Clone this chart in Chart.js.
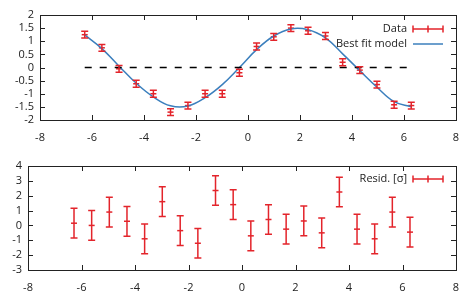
<!DOCTYPE html>
<html>
<head>
<meta charset="utf-8">
<script src="https://cdn.jsdelivr.net/npm/chart.js@4.4.1/dist/chart.umd.min.js"></script>
<style>
body { margin: 0; background: #fff; }
#wrap { position: relative; width: 474px; height: 301px; }
#fitChart { position: absolute; left: 0; top: 0; }
#residChart { position: absolute; left: 0; top: 145px; }
</style>
</head>
<body>
<div id="wrap">
  <canvas id="fitChart" width="474" height="145"></canvas>
  <canvas id="residChart" width="474" height="156"></canvas>
</div>
<script>
// data
var xValues = [-6.28, -5.62, -4.96, -4.30, -3.64, -2.98, -2.31, -1.65, -0.99, -0.33,
               0.33, 0.99, 1.65, 2.31, 2.98, 3.64, 4.30, 4.96, 5.62, 6.28];
var dataValues = [1.25, 0.75, -0.05, -0.62, -1.0, -1.7, -1.45, -1.0, -1.0, -0.2,
                  0.8, 1.17, 1.5, 1.4, 1.2, 0.2, -0.1, -0.65, -1.42, -1.45];
var dataErrors = [0.13, 0.13, 0.13, 0.13, 0.13, 0.13, 0.13, 0.13, 0.13, 0.13,
                  0.13, 0.13, 0.13, 0.13, 0.13, 0.13, 0.13, 0.13, 0.13, 0.13];
var modelValues = [1.24, 0.72, 0.05, -0.6, -1.12, -1.46, -1.47, -1.15, -0.65, 0.0,
                   0.68, 1.2, 1.47, 1.44, 1.13, 0.52, -0.12, -0.75, -1.3, -1.5];
var residValues = [0.15, 0.0, 0.9, 0.28, -0.9, 1.6, -0.35, -1.2, 2.35, 1.4,
                   -0.7, 0.4, -0.25, 0.3, -0.5, 2.25, -0.25, -0.9, 0.9, -0.45];
var residErrors = [1, 1, 1, 1, 1, 1, 1, 1, 1, 1, 1, 1, 1, 1, 1, 1, 1, 1, 1, 1];
var zeroLineX = [-6.28, 6.28];
var zeroLineY = [0, 0];
var xTicks = [-8, -6, -4, -2, 0, 2, 4, 6, 8];
var yTicksTop = [-2, -1.5, -1, -0.5, 0, 0.5, 1, 1.5, 2];
var yTicksBottom = [-3, -2, -1, 0, 1, 2, 3, 4];

var RED = '#e3242b';
var BLUE = '#3b7fbd';
var AXIS = '#222222';
var FONT = { family: '"Open Sans", "Noto Sans", sans-serif', size: 11 };

function pts(xs, ys) {
    return xs.map(function (x, i) { return { x: x, y: ys[i] }; });
}

// vertical error bars with caps, for datasets carrying an "errors" array
var errorBars = {
    id: 'errorBars',
    afterDatasetsDraw: function (chart) {
        var ctx = chart.ctx;
        var sx = chart.scales.x, sy = chart.scales.y;
        chart.data.datasets.forEach(function (ds) {
            if (!ds.errors) return;
            ctx.save();
            ctx.strokeStyle = ds.borderColor;
            ctx.lineWidth = 1.5;
            ds.data.forEach(function (p, i) {
                var px = sx.getPixelForValue(p.x);
                var y1 = sy.getPixelForValue(p.y - ds.errors[i]);
                var y2 = sy.getPixelForValue(p.y + ds.errors[i]);
                ctx.beginPath();
                ctx.moveTo(px, y1); ctx.lineTo(px, y2);
                ctx.moveTo(px - 3.5, y1); ctx.lineTo(px + 3.5, y1);
                ctx.moveTo(px - 3.5, y2); ctx.lineTo(px + 3.5, y2);
                ctx.stroke();
            });
            ctx.restore();
        });
    }
};

// gnuplot style tics pointing inwards on all four sides
var innerTicks = {
    id: 'innerTicks',
    afterDraw: function (chart) {
        var ctx = chart.ctx, a = chart.chartArea;
        var sx = chart.scales.x, sy = chart.scales.y;
        ctx.save();
        ctx.strokeStyle = AXIS;
        ctx.lineWidth = 1;
        ctx.beginPath();
        sx.ticks.forEach(function (t) {
            var px = Math.round(sx.getPixelForValue(t.value)) + 0.5;
            ctx.moveTo(px, a.bottom); ctx.lineTo(px, a.bottom - 5);
            ctx.moveTo(px, a.top); ctx.lineTo(px, a.top + 5);
        });
        sy.ticks.forEach(function (t) {
            var py = Math.round(sy.getPixelForValue(t.value)) + 0.5;
            ctx.moveTo(a.left, py); ctx.lineTo(a.left + 5, py);
            ctx.moveTo(a.right, py); ctx.lineTo(a.right - 5, py);
        });
        ctx.stroke();
        ctx.restore();
    }
};

// key in the upper right corner, text right aligned before the sample
var keyBox = {
    id: 'keyBox',
    afterDraw: function (chart) {
        var ctx = chart.ctx;
        var items = chart.options.plugins.keyBox.items;
        ctx.save();
        ctx.font = FONT.size + 'px ' + FONT.family;
        ctx.textAlign = 'right';
        ctx.textBaseline = 'middle';
        items.forEach(function (it) {
            ctx.fillStyle = AXIS;
            ctx.fillText(it.text, 407, it.y);
            ctx.strokeStyle = it.color;
            ctx.lineWidth = 1.5;
            ctx.beginPath();
            ctx.moveTo(413, it.y); ctx.lineTo(443, it.y);
            if (it.bars) {
                [413, 428, 443].forEach(function (bx) {
                    ctx.moveTo(bx, it.y - 3.5); ctx.lineTo(bx, it.y + 3.5);
                });
            }
            ctx.stroke();
        });
        ctx.restore();
    }
};

function makeScales(yMin, yMax, yStep, yWidth, xHeight, xPad) {
    var hidden = { display: false };
    return {
        x: {
            type: 'linear', position: 'bottom', min: -8, max: 8,
            afterBuildTicks: function (s) { s.ticks = xTicks.map(function (v) { return { value: v }; }); },
            ticks: { font: FONT, color: AXIS, padding: xPad, maxRotation: 0, autoSkip: false },
            grid: { display: false, drawTicks: false },
            border: { display: true, color: AXIS, width: 1 },
            afterFit: function (s) { s.height = xHeight; }
        },
        x2: {
            type: 'linear', position: 'top', min: -8, max: 8,
            ticks: hidden, grid: { display: false, drawTicks: false },
            border: { display: true, color: AXIS, width: 1 },
            afterFit: function (s) { s.height = 0; }
        },
        y: {
            type: 'linear', position: 'left', min: yMin, max: yMax,
            afterBuildTicks: function (s) { s.ticks = yStep.map(function (v) { return { value: v }; }); },
            ticks: { font: FONT, color: AXIS, padding: 6, autoSkip: false,
                     callback: function (v) { return String(v); } },
            grid: { display: false, drawTicks: false },
            border: { display: true, color: AXIS, width: 1 },
            afterFit: function (s) { s.width = yWidth; }
        },
        y2: {
            type: 'linear', position: 'right', min: yMin, max: yMax,
            ticks: hidden, grid: { display: false, drawTicks: false },
            border: { display: true, color: AXIS, width: 1 },
            afterFit: function (s) { s.width = 0; }
        }
    };
}

new Chart(document.getElementById('fitChart'), {
    type: 'scatter',
    data: {
        datasets: [
            {
                label: 'zero', data: pts(zeroLineX, zeroLineY), showLine: true,
                borderColor: '#000', borderWidth: 1.5, borderDash: [7, 8], pointRadius: 0
            },
            {
                label: 'Best fit model', data: pts(xValues, modelValues), showLine: true,
                borderColor: BLUE, borderWidth: 1.5, tension: 0.4, pointRadius: 0
            },
            {
                label: 'Data', data: pts(xValues, dataValues), errors: dataErrors,
                borderColor: RED, backgroundColor: RED, pointStyle: 'line',
                pointRadius: 3, pointBorderWidth: 1.5
            }
        ]
    },
    options: {
        responsive: false, animation: false,
        layout: { padding: { top: 15, right: 18, left: 0, bottom: 0 }, autoPadding: false },
        scales: makeScales(-2, 2, yTicksTop, 40, 25, 11),
        plugins: {
            legend: { display: false }, tooltip: { enabled: false },
            keyBox: { items: [
                { text: 'Data', y: 29, color: RED, bars: true },
                { text: 'Best fit model', y: 44, color: BLUE, bars: false }
            ] }
        }
    },
    plugins: [errorBars, innerTicks, keyBox]
});

new Chart(document.getElementById('residChart'), {
    type: 'scatter',
    data: {
        datasets: [
            {
                label: 'Resid. [σ]', data: pts(xValues, residValues), errors: residErrors,
                borderColor: RED, backgroundColor: RED, pointStyle: 'line',
                pointRadius: 3, pointBorderWidth: 1.5
            }
        ]
    },
    options: {
        responsive: false, animation: false,
        layout: { padding: { top: 21, right: 18, left: 0, bottom: 0 }, autoPadding: false },
        scales: makeScales(-3, 4, yTicksBottom, 28, 31, 11),
        plugins: {
            legend: { display: false }, tooltip: { enabled: false },
            keyBox: { items: [
                { text: 'Resid. [σ]', y: 34, color: RED, bars: true }
            ] }
        }
    },
    plugins: [errorBars, innerTicks, keyBox]
});
</script>
</body>
</html>
